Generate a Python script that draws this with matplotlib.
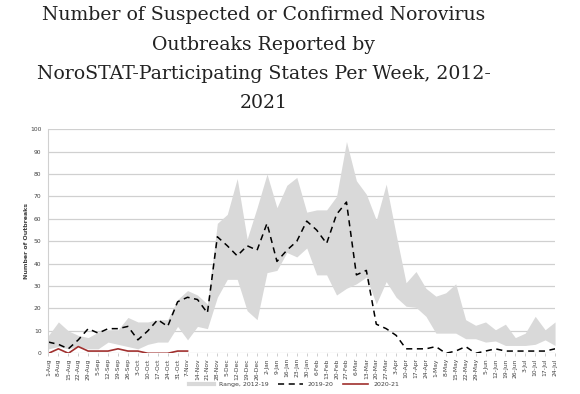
import matplotlib
matplotlib.use("Agg")
import matplotlib.pyplot as plt
import numpy as np

weeks = ["1-Aug", "8-Aug", "15-Aug", "22-Aug", "29-Aug", "5-Sep", "12-Sep",
         "19-Sep", "26-Sep", "3-Oct", "10-Oct", "17-Oct", "24-Oct", "31-Oct",
         "7-Nov", "14-Nov", "21-Nov", "28-Nov", "5-Dec", "12-Dec", "19-Dec",
         "26-Dec", "2-Jan", "9-Jan", "16-Jan", "23-Jan", "30-Jan", "6-Feb",
         "13-Feb", "20-Feb", "27-Feb", "6-Mar", "13-Mar", "20-Mar", "27-Mar",
         "3-Apr", "10-Apr", "17-Apr", "24-Apr", "1-May", "8-May", "15-May",
         "22-May", "29-May", "5-Jun", "12-Jun", "19-Jun", "26-Jun", "3-Jul",
         "10-Jul", "17-Jul", "24-Jul"]

# range 2012-19 (min / max per week)
range_low = [2, 3, 2, 3, 2, 2, 5, 4, 3, 2, 4, 5, 5, 12, 6, 12, 11, 25, 33, 33,
             19, 15, 36, 37, 45, 43, 47, 35, 35, 26, 29, 31, 34, 22, 32, 25,
             21, 20.5, 16.5, 9, 9, 9, 6.5, 6.5, 5, 5.5, 3.5, 3.5, 3.5, 4, 6, 3.5]
range_high = [8, 14, 10, 8, 7, 9.5, 10.5, 10.5, 16, 14, 14, 15, 15, 24, 28, 26,
              22, 58, 62, 78, 51, 65, 80, 65, 75, 78.5, 63, 64, 64, 70, 94.5,
              77, 71, 59.5, 75.5, 53, 31.5, 36.5, 29, 25.5, 27, 31, 15, 12.5,
              14, 10.5, 13, 7, 9, 16.5, 10.5, 14]

season_1920 = [5, 4, 2, 6, 11, 9, 11, 11, 12, 6, 10, 15, 12, 23, 25, 24, 18,
               52, 48, 43.5, 48, 46, 58, 41, 46, 50, 59, 55, 49, 62, 67.5, 35,
               37, 13, 11, 8, 2, 2, 2, 3, 0, 1, 3, 0, 1, 2, 1, 1, 1, 1, 1, 2]

season_2021 = [0, 2, 0, 3, 1, 1, 1, 2, 1, 1, 0, 0, 0, 1, 1]

title = ("Number of Suspected or Confirmed Norovirus\n"
         "Outbreaks Reported by\n"
         "NoroSTAT-Participating States Per Week, 2012-\n"
         "2021")

fig = plt.figure(figsize=(5.8, 3.94), dpi=100)
ax = fig.add_axes([0.0836, 0.1033, 0.957 - 0.0836, 0.672 - 0.1033])

x = np.arange(len(weeks))
ax.fill_between(x, range_low, range_high, color="#d9d9d9", lw=0,
                label="Range, 2012-19")
ax.plot(x, season_1920, color="black", lw=1.1, ls=(0, (4, 3)),
        label="2019-20")
ax.plot(x[:len(season_2021)], season_2021, color="#a0302e", lw=1.2,
        label="2020-21")

ax.set_xlim(0, len(weeks) - 1)
ax.set_ylim(0, 100)
ax.set_yticks(np.arange(0, 101, 10))
ax.yaxis.grid(True, color="#d0d0d0", lw=0.9)
ax.set_axisbelow(True)
for s in ["top", "right", "bottom"]:
    ax.spines[s].set_visible(False)
ax.spines["left"].set_color("#d0d0d0")
ax.spines["left"].set_linewidth(0.8)

ax.set_xticks(x)
ax.set_xticklabels(weeks, rotation=90, fontsize=4.3, color="#404040")
ax.tick_params(axis="x", length=2, width=0.5, color="#bbbbbb", pad=1.5)
ax.tick_params(axis="y", length=0, labelsize=4.3, labelcolor="#404040", pad=5)
ax.set_ylabel("Number of Outbreaks", fontsize=4.5, color="#404040",
              fontweight="bold", labelpad=1)

fig.text(0.455, 0.984, title, ha="center", va="top", family="DejaVu Serif",
         fontsize=13.6, color="#222222", linespacing=1.8)

handles = [plt.Line2D([], [], color="#d9d9d9", lw=3),
           plt.Line2D([], [], color="black", lw=1.1, ls=(0, (4, 3))),
           plt.Line2D([], [], color="#a0302e", lw=1.2)]
fig.legend(handles, ["Range, 2012-19", "2019-20", "2020-21"], loc="center",
           bbox_to_anchor=(294 / 580, 1 - 384 / 394), ncol=3, frameon=False,
           fontsize=4.5, handlelength=4, columnspacing=1.5,
           labelcolor="#404040")

fig.savefig("out.png", dpi=100)
